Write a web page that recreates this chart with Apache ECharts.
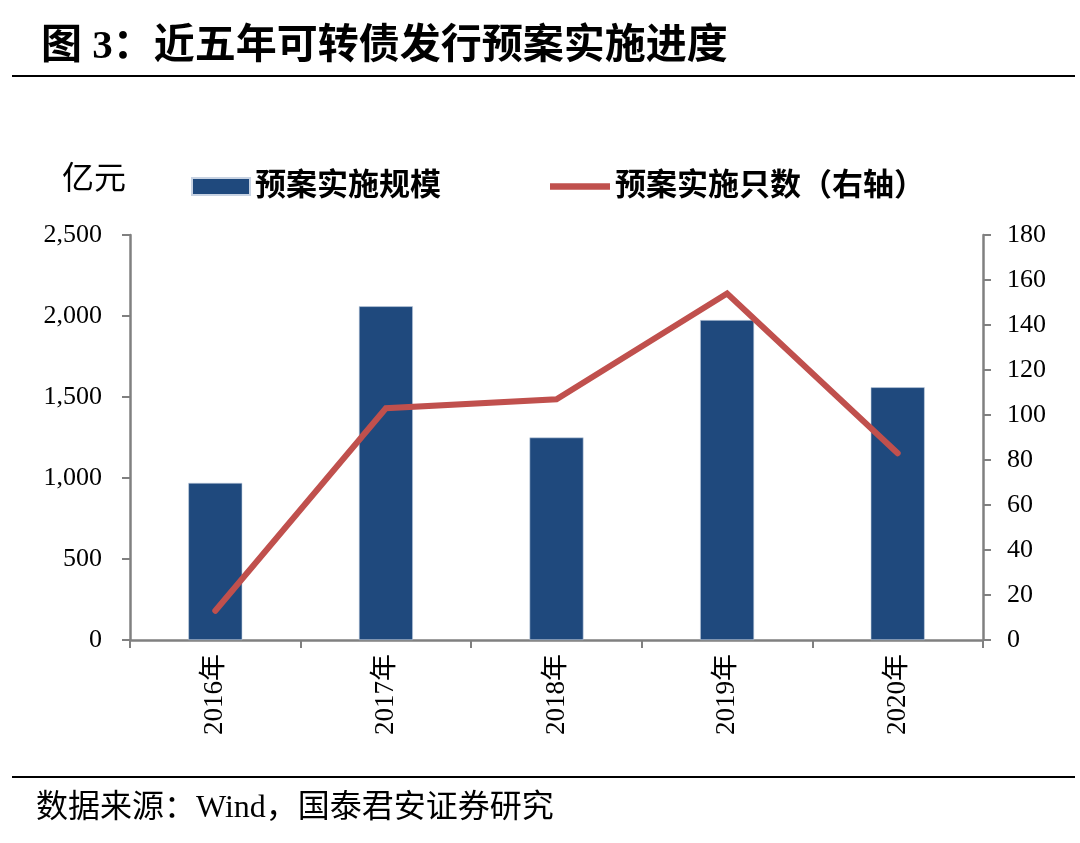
<!DOCTYPE html>
<html>
<head>
<meta charset="utf-8">
<script src="https://cdn.jsdelivr.net/npm/echarts@6/dist/echarts.min.js"></script>
<style>html,body{margin:0;padding:0;background:#fff}#c{width:1080px;height:843px}</style>
</head>
<body>
<div id="c"></div>
<script>
const categories = ['2016年', '2017年', '2018年', '2019年', '2020年'];
const scaleValues = [970, 2060, 1250, 1975, 1560];
const countValues = [13, 103, 107, 154, 83];
const barName = '预案实施规模';
const lineName = '预案实施只数（右轴）';

const serif = '"Liberation Serif", "Times New Roman", "Noto Sans CJK SC", serif';
const chart = echarts.init(document.getElementById('c'));
const axisColor = '#808080';
chart.setOption({
  backgroundColor: '#fff',
  animation: false,
  title: {
    text: '图 3：近五年可转债发行预案实施进度',
    left: 36, top: 22,
    textStyle: { fontFamily: serif, fontSize: 41, fontWeight: 'bold', color: '#000' }
  },
  graphic: [
    { type: 'line', shape: { x1: 12, y1: 76, x2: 1075, y2: 76 }, style: { stroke: '#000', lineWidth: 2 } },
    { type: 'line', shape: { x1: 12, y1: 777, x2: 1075, y2: 777 }, style: { stroke: '#000', lineWidth: 2 } },
    { type: 'text', left: 62, top: 165, style: { text: '亿元', font: '32px ' + serif, fill: '#000' } },
    { type: 'text', left: 36, top: 793, style: { text: '数据来源：Wind，国泰君安证券研究', font: '32px ' + serif, fill: '#000' } }
  ],
  legend: [
    {
      data: [{ name: barName, icon: 'rect' }], left: 186, top: 166, itemWidth: 58, itemHeight: 17, itemGap: 8,
      textStyle: { fontFamily: serif, fontSize: 31, fontWeight: 'bold', color: '#000' }
    },
    {
      data: [{ name: lineName, icon: 'path://M0,0H60V6.5H0Z' }], left: 545, top: 166, itemWidth: 60, itemHeight: 17, itemGap: 7,
      textStyle: { fontFamily: serif, fontSize: 31, fontWeight: 'bold', color: '#000' }
    }
  ],
  grid: { left: 130, right: 97, top: 235, bottom: 203 },
  xAxis: {
    type: 'category', data: categories,
    axisLine: { lineStyle: { color: axisColor, width: 2.5 } },
    axisTick: { show: true, length: 8, lineStyle: { color: axisColor, width: 2 } },
    axisLabel: { rotate: 90, margin: 14, fontFamily: serif, fontSize: 27, color: '#000' }
  },
  yAxis: [
    {
      type: 'value', min: 0, max: 2500, interval: 500,
      splitLine: { show: false },
      axisLine: { show: true, lineStyle: { color: axisColor, width: 2.5 } },
      axisTick: { show: true, length: 8, lineStyle: { color: axisColor, width: 2 } },
      axisLabel: {
        margin: 28, fontFamily: serif, fontSize: 26, color: '#000',
        formatter: v => v.toLocaleString('en-US')
      }
    },
    {
      type: 'value', min: 0, max: 180, interval: 20, position: 'right',
      splitLine: { show: false },
      axisLine: { show: true, lineStyle: { color: axisColor, width: 2.5 } },
      axisTick: { show: true, length: 8, lineStyle: { color: axisColor, width: 2 } },
      axisLabel: { margin: 24, fontFamily: serif, fontSize: 26, color: '#000' }
    }
  ],
  series: [
    {
      name: barName, type: 'bar', data: scaleValues, barWidth: 54,
      itemStyle: { color: '#1F497D', borderColor: '#c8d3e3', borderWidth: 0.6 }
    },
    {
      name: lineName, type: 'line', yAxisIndex: 1, data: countValues,
      symbol: 'none',
      lineStyle: { color: '#C0504D', width: 6, cap: 'round', join: 'miter' },
      itemStyle: { color: '#C0504D' }
    }
  ]
});
</script>
</body>
</html>
